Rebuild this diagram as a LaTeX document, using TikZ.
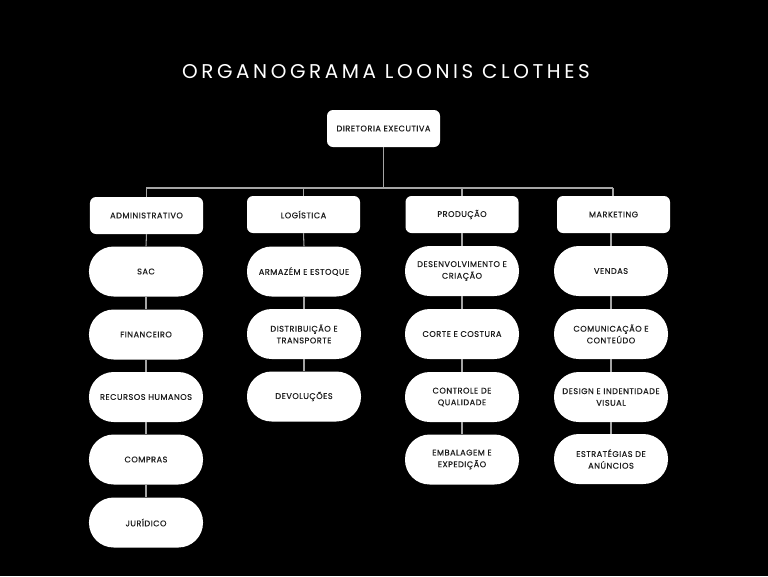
\documentclass[tikz,border=0pt]{standalone}
\usepackage{fontspec}
\setmainfont{Poppins}
\newfontfamily\titlefont[LetterSpace=18]{Poppins}
\newfontfamily\boxfont[LetterSpace=6,FakeBold=0.5]{Poppins}
\definecolor{boxtext}{RGB}{30,30,30}
\definecolor{wire}{RGB}{165,165,165}
\begin{document}
\begin{tikzpicture}[x=0.03cm,y=-0.03cm,
  head/.style={fill=white,rounded corners=0.18cm,minimum width=3.39cm,minimum height=1.11cm,
    text=boxtext,font=\boxfont\fontsize{7}{8.5}\selectfont,align=center,inner sep=0pt},
  pill/.style={fill=white,rounded corners=0.74cm,minimum width=3.42cm,minimum height=1.5cm,
    text=boxtext,font=\boxfont\fontsize{7}{10}\selectfont,align=center,inner sep=0pt},
  wire/.style={draw=wire,line width=0.9pt}]
\fill[black] (0,0) rectangle (768,576);
\node[white,font=\titlefont\fontsize{17}{20}\selectfont] (title) at (386,72) {ORGANOGRAMA LOONIS CLOTHES};

% topo
\node[head] (dir) at (383.5,128.5) {DIRETORIA EXECUTIVA};
\node[head] (adm) at (146.5,215.5) {ADMINISTRATIVO};
\node[head] (log) at (303.5,214.5) {LOGÍSTICA};
\node[head] (prod) at (462,214.5) {PRODUÇÃO};
\node[head] (mkt) at (613.5,214.5) {MARKETING};
\coordinate (busL) at (146,188);
\coordinate (busR) at (613,188);

% administrativo
\node[pill] (a1) at (146,271.5) {SAC};
\node[pill] (a2) at (146,334.5) {FINANCEIRO};
\node[pill] (a3) at (146,397) {RECURSOS HUMANOS};
\node[pill] (a4) at (146,459.5) {COMPRAS};
\node[pill] (a5) at (146,522.5) {JURÍDICO};

% logistica
\node[pill] (l1) at (304,271.5) {ARMAZÉM E ESTOQUE};
\node[pill] (l2) at (304,334) {DISTRIBUIÇÃO E\\TRANSPORTE};
\node[pill] (l3) at (304,396.5) {DEVOLUÇÕES};

% producao
\node[pill] (p1) at (462,271) {DESENVOLVIMENTO E\\CRIAÇÃO};
\node[pill] (p2) at (462,334) {CORTE E COSTURA};
\node[pill] (p3) at (462,397) {CONTROLE DE\\QUALIDADE};
\node[pill] (p4) at (462,459.5) {EMBALAGEM E\\EXPEDIÇÃO};

% marketing
\node[pill] (m1) at (611,271) {VENDAS};
\node[pill] (m2) at (611,334) {COMUNICAÇÃO E\\CONTEÚDO};
\node[pill] (m3) at (611,397) {DESIGN E INDENTIDADE\\VISUAL};
\node[pill] (m4) at (611,459) {ESTRATÉGIAS DE\\ANÚNCIOS};

\draw[wire] (dir.south) -- (dir.south |- busL);
\draw[wire] (busL) -- (busR);
\foreach \h in {adm,log,prod}
  \draw[wire] (\h.north |- busL) -- (\h.north);
\draw[wire] (busR) -- (mkt.north -| busR);
\draw[wire] (adm.south) -- (a1.north);
\draw[wire] (log.south) -- (l1.north);
\draw[wire] (prod.south) -- (p1.north);
\draw[wire] (mkt.south -| m1.north) -- (m1.north);
\foreach \a/\b in {a1/a2,a2/a3,a3/a4,a4/a5,l1/l2,l2/l3,p1/p2,p2/p3,p3/p4,m1/m2,m2/m3,m3/m4}
  \draw[wire] (\a.south) -- (\b.north);
\end{tikzpicture}
\end{document}
